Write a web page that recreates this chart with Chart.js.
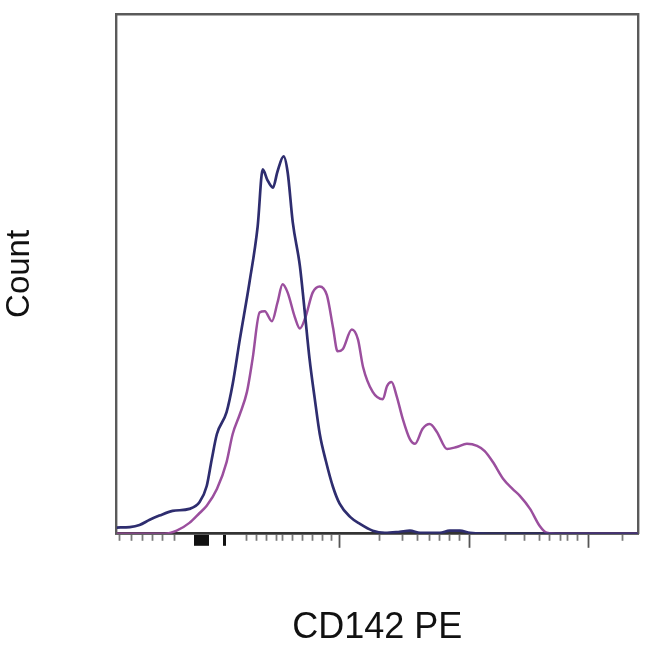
<!DOCTYPE html>
<html>
<head>
<meta charset="utf-8">
<script src="https://cdn.jsdelivr.net/npm/chart.js@4/dist/chart.umd.min.js"></script>
<style>
  html, body { margin: 0; padding: 0; background: #ffffff; }
  #wrap { width: 650px; height: 650px; }
</style>
</head>
<body>
<div id="wrap"><canvas id="c" width="650" height="650"></canvas></div>
<script>
// Channel positions (0–1024 display channels) and normalized counts
const isotypeX = [0, 26, 45, 65, 84, 110, 143, 163, 177, 187, 197, 216, 228, 242, 261, 277, 287, 296, 307, 316, 328, 336, 346, 360, 369, 379, 389, 399, 411, 425, 438, 458, 478, 503, 527, 556, 576, 596, 635, 654, 674, 694, 753, 1024];
const isotypeY = [1.2, 1.3, 1.7, 2.7, 3.5, 4.4, 4.8, 6.1, 9.2, 14.4, 19.2, 23.4, 28.8, 37.4, 48.4, 59.1, 70.1, 68.1, 66.6, 69.7, 72.6, 69.5, 59.9, 51.5, 43.2, 33.6, 26.1, 19.2, 14.0, 9.0, 5.8, 3.3, 1.9, 0.6, 0.2, 0.4, 0.6, 0.2, 0.2, 0.6, 0.6, 0.2, 0, 0];

const cd142X = [0, 94, 118, 143, 163, 177, 197, 216, 228, 242, 256, 267, 281, 291, 305, 316, 326, 336, 350, 360, 371, 385, 399, 413, 425, 434, 444, 462, 474, 484, 503, 523, 531, 540, 550, 562, 576, 586, 601, 615, 629, 649, 668, 688, 708, 723, 739, 759, 778, 792, 812, 831, 845, 871, 1024];
const cd142Y = [0, 0, 0.6, 2.1, 4.0, 5.4, 8.6, 13.8, 19.2, 23.0, 27.3, 33.6, 42.6, 42.8, 40.9, 44.5, 48.0, 46.4, 41.7, 39.5, 41.7, 46.4, 47.6, 45.9, 39.7, 35.1, 35.5, 39.3, 37.4, 32.1, 27.3, 25.9, 28.4, 29.2, 26.5, 22.1, 18.2, 17.3, 20.2, 21.1, 19.6, 16.3, 16.7, 17.3, 16.9, 15.9, 13.8, 10.6, 8.6, 7.3, 4.8, 1.5, 0.2, 0, 0];

// Axis tick marks (channel positions)
const majorTicks = [438, 694, 926];
const markerTicks = [155, 161, 167, 173, 179, 212];
const minorTicks = [6, 29, 51, 71, 90, 114, 255, 275, 295, 314, 326, 346, 366, 385, 405, 423, 517, 562, 590, 615, 635, 654, 674, 763, 802, 831, 851, 871, 886, 906, 994];

const xTitle = 'CD142 PE';
const yTitle = 'Count';

const allTicks = [...minorTicks, ...markerTicks, ...majorTicks].sort((a, b) => a - b);

function tickKind(v) {
  if (majorTicks.includes(v)) return 'major';
  if (markerTicks.includes(v)) return 'marker';
  return 'minor';
}

const toPoints = (xs, ys) => xs.map((x, i) => ({ x: x, y: ys[i] }));

new Chart(document.getElementById('c'), {
  type: 'line',
  data: {
    datasets: [
      {
        label: 'Isotype',
        data: toPoints(isotypeX, isotypeY),
        borderColor: '#2e2d6f',
        borderWidth: 2.7,
        pointRadius: 0,
        cubicInterpolationMode: 'monotone',
        fill: false
      },
      {
        label: 'CD142',
        data: toPoints(cd142X, cd142Y),
        borderColor: '#9b4f9e',
        borderWidth: 2.5,
        pointRadius: 0,
        cubicInterpolationMode: 'monotone',
        fill: false
      }
    ]
  },
  options: {
    responsive: false,
    animation: false,
    events: [],
    layout: { padding: { top: 14, right: 12, bottom: 0, left: 0 } },
    plugins: { legend: { display: false }, tooltip: { enabled: false } },
    scales: {
      x: {
        type: 'linear',
        position: 'bottom',
        min: 0,
        max: 1024,
        afterBuildTicks: (scale) => { scale.ticks = allTicks.map(v => ({ value: v })); },
        ticks: { display: false, autoSkip: false },
        grid: {
          drawOnChartArea: false,
          drawTicks: true,
          tickLength: 15,
          tickWidth: (ctx) => tickKind(ctx.tick ? ctx.tick.value : 0) === 'marker' ? 3 : 1.8,
          tickColor: (ctx) => {
            const k = tickKind(ctx.tick ? ctx.tick.value : 0);
            return k === 'minor' ? '#7a7a7a' : (k === 'marker' ? '#111111' : '#555555');
          },
          tickBorderDash: (ctx) => {
            const k = tickKind(ctx.tick ? ctx.tick.value : 0);
            if (k === 'minor') return [6, 40];
            if (k === 'marker') return [11, 40];
            return [13, 40];
          }
        },
        border: { display: true, color: '#333333', width: 2.8 },
        title: {
          display: true,
          text: xTitle,
          color: '#111111',
          font: { family: 'Liberation Sans, Arial, sans-serif', size: 36, weight: 'normal' },
          padding: { top: 58, bottom: 0 }
        }
      },
      xTop: {
        type: 'linear',
        position: 'top',
        min: 0,
        max: 1024,
        ticks: { display: false },
        grid: { display: false, drawTicks: false },
        border: { display: true, color: '#5a5a5a', width: 2.4 }
      },
      y: {
        type: 'linear',
        position: 'left',
        min: 0,
        max: 100,
        ticks: { display: false },
        grid: { display: false, drawTicks: false },
        border: { display: true, color: '#5a5a5a', width: 2.4 },
        title: {
          display: true,
          text: yTitle,
          color: '#111111',
          font: { family: 'Liberation Sans, Arial, sans-serif', size: 33, weight: 'normal' },
          padding: { top: 0, bottom: 77 }
        }
      },
      yRight: {
        type: 'linear',
        position: 'right',
        min: 0,
        max: 100,
        ticks: { display: false },
        grid: { display: false, drawTicks: false },
        border: { display: true, color: '#5a5a5a', width: 2.4 }
      }
    }
  }
});
</script>
</body>
</html>
